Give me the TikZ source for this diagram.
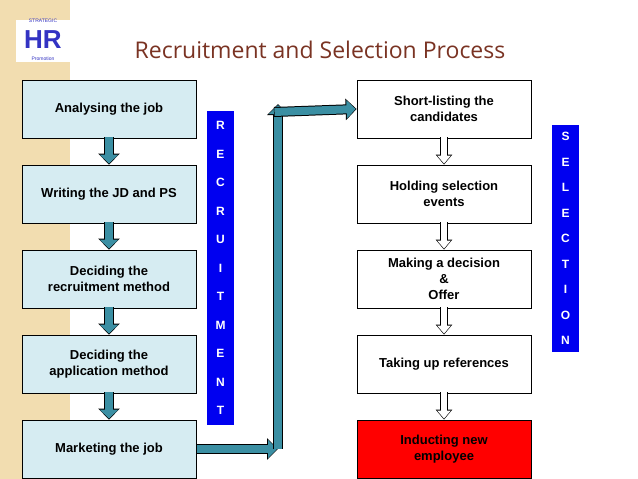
\documentclass[tikz,border=0pt]{standalone}
\usepackage{fontspec}
\setmainfont{Liberation Sans}
\newfontfamily\titlefont{Open Sans}
\usetikzlibrary{arrows.meta}
\definecolor{boxblue}{HTML}{D6ECF2}
\definecolor{arrteal}{HTML}{3B8FA3}
\definecolor{barblue}{HTML}{0000F0}
\definecolor{titlered}{HTML}{7A3323}
\definecolor{beige}{HTML}{F2DDB0}
\begin{document}
\begin{tikzpicture}[x=1pt,y=-1pt,
		step box/.style={draw,thick,minimum width=174pt,minimum height=58pt,align=center,font=\bfseries\fontsize{13}{16}\selectfont},
		rec box/.style={step box,fill=boxblue},
		sel box/.style={step box,fill=white},
		side bar/.style={fill=barblue,text=white,minimum width=27pt,align=center,font=\bfseries\fontsize{12}{28.5}\selectfont},
		teal arrow/.style={draw=black,line width=10pt,-{Triangle[width=21pt,length=11pt]}},
		teal inner/.style={draw=arrteal,line width=8pt,-{Triangle[width=18pt,length=9pt]}},
		white arrow/.style={draw=black,line width=8pt,-{Triangle[width=16pt,length=10pt]}},
		white inner/.style={draw=white,line width=6pt,-{Triangle[width=13pt,length=8pt]}}]
	\useasboundingbox (0,0) rectangle (638,479);
	\fill[beige] (0,0) rectangle (70,479);
	\fill[white] (70,0) rectangle (638,479);
	% logo
	\node[fill=white,minimum width=54pt,minimum height=42pt,inner sep=0pt] (logo) at (43,41) {};
	\node[font=\bfseries\fontsize{26}{26}\selectfont,text=barblue!60!gray] (hr) at (43,40) {HR};
	\node[font=\fontsize{5}{5}\selectfont,text=barblue!60!gray] (strat) at (43,21) {STRATEGIC};
	\node[font=\fontsize{5}{5}\selectfont,text=barblue!60!gray] (promo) at (43,59) {Promotion};
	\node[font=\titlefont\fontsize{23}{26}\selectfont,text=titlered] (title) at (320,50) {Recruitment and Selection Process};
	% recruitment column
	\node[rec box] (r1) at (109,109) {Analysing the job};
	\node[rec box] (r2) at (109,194) {Writing the JD and PS};
	\node[rec box] (r3) at (109,279) {Deciding the\\recruitment method};
	\node[rec box] (r4) at (109,364) {Deciding the\\application method};
	\node[rec box] (r5) at (109,449) {Marketing the job};
	\node[side bar,minimum height=314pt] (recbar) at (220.5,268) {R\\E\\C\\R\\U\\I\\T\\M\\E\\N\\T};
	% selection column
	\node[sel box] (s1) at (444,109) {Short-listing the\\candidates};
	\node[sel box] (s2) at (444,194) {Holding selection\\events};
	\node[sel box] (s3) at (444,279) {Making a decision\\\&\\Offer};
	\node[sel box] (s4) at (444,364) {Taking up references};
	\node[sel box,fill=red] (s5) at (444,449) {Inducting new\\employee};
	\node[side bar,minimum height=227pt,font=\bfseries\fontsize{12}{25.5}\selectfont] (selbar) at (565.5,238.5) {S\\E\\L\\E\\C\\T\\I\\O\\N};
	% arrows
	\foreach \a/\b in {r1/r2,r2/r3,r3/r4,r4/r5}{
		\draw[teal arrow,shorten <=-1pt] (\a.south) -- (\b.north);
		\draw[teal inner,shorten <=-1pt,shorten >=1pt] (\a.south) -- (\b.north);
	}
	\foreach \a/\b in {s1/s2,s2/s3,s3/s4,s4/s5}{
		\draw[white arrow,shorten <=-1pt] (\a.south) -- (\b.north);
		\draw[white inner,shorten <=-1pt,shorten >=1pt] (\a.south) -- (\b.north);
	}
	\coordinate (c1) at (278,449);
	\coordinate (c2) at (278,104);
	\coordinate (c4) at (274,112);
	\foreach \p/\q in {r5.east/c1,c1/c2,c4/s1.west}{
		\draw[teal arrow] (\p) -- (\q);
		\draw[teal inner,shorten <=0.5pt,shorten >=1pt] (\p) -- (\q);
	}
\end{tikzpicture}
\end{document}
